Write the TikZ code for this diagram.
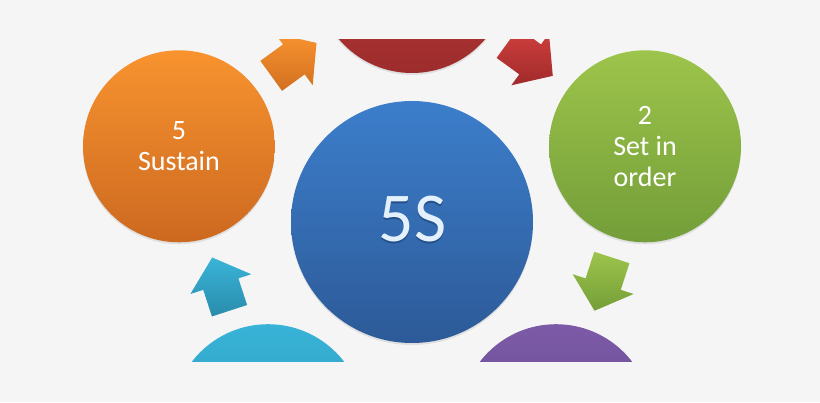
\documentclass[tikz,border=0pt]{standalone}
\usepackage{fontspec}
\setmainfont{Carlito}
\usetikzlibrary{calc,shadows}
\definecolor{bg}{HTML}{F5F5F5}
\definecolor{orT}{HTML}{F8932F}
\definecolor{orB}{HTML}{CC6920}
\definecolor{grT}{HTML}{9DC44B}
\definecolor{grB}{HTML}{739E39}
\definecolor{blT}{HTML}{3C7ECB}
\definecolor{blB}{HTML}{2D5A98}
\definecolor{rdT}{HTML}{C84240}
\definecolor{rdB}{HTML}{9D2C2C}
\definecolor{cyT}{HTML}{38B3D7}
\definecolor{cyB}{HTML}{2690B0}
\definecolor{puT}{HTML}{7C5AA7}
\definecolor{puB}{HTML}{5E4285}
\definecolor{oaT}{HTML}{F8932F}
\definecolor{oaB}{HTML}{D27020}
\definecolor{raT}{HTML}{D0403F}
\definecolor{raB}{HTML}{A12A2A}
\definecolor{gaT}{HTML}{9DC44B}
\definecolor{gaB}{HTML}{749F38}
\definecolor{caT}{HTML}{39B4D8}
\definecolor{caB}{HTML}{2A8CAC}
\definecolor{txtS}{HTML}{E4F1FD}
\definecolor{txtSh}{HTML}{24508A}
\begin{document}
\begin{tikzpicture}[x=1pt,y=1pt,
  disc/.style={circle, inner sep=0pt, minimum size=192pt, text=white, align=center,
    font=\fontsize{28}{31}\selectfont,
    drop shadow={opacity=0.18, shadow xshift=0pt, shadow yshift=-2pt}},
  bigdisc/.style={disc, minimum size=242pt},
  bigtext/.style={font=\fontsize{70}{70}\selectfont, inner sep=0pt},
  blockarrow/.style={draw=none}]
\useasboundingbox (0,0) rectangle (820,402);
\fill[bg] (0,0) rectangle (820,402);
\begin{scope}
\clip (0,40) rectangle (820,362);
\coordinate (ctr) at (412,180);
% outer circles
\node[disc, top color=rdT, bottom color=rdB] (s1) at ($(ctr)+(90:245)$) {};
\node[disc, top color=grT, bottom color=grB] (s2) at ($(ctr)+(18:245)$) {2\\Set in\\order};
\node[disc, top color=puT, bottom color=puB] (s3) at ($(ctr)+(-54:245)$) {};
\node[disc, top color=cyT, bottom color=cyB] (s4) at ($(ctr)+(-126:245)$) {};
\node[disc, top color=orT, bottom color=orB] (s5) at ($(ctr)+(162:245)$) {5\\Sustain};
% centre circle
\node[bigdisc, top color=blT, bottom color=blB] (c0) at (ctr) {};
\node[bigtext, text=txtSh] (t0sh) at ($(ctr)+(0.8,1.0)$) {5S};
\node[bigtext, text=txtS] (t0) at ($(ctr)+(0.5,2.5)$) {5S};
% block arrows
\begin{scope}[shift={($(ctr)+(126:201)$)}, rotate=36]
  \path[blockarrow, top color=oaT, bottom color=oaB] (28,0) -- (0,32) -- (0,18.5) -- (-28,18.5) -- (-28,-18.5) -- (0,-18.5) -- (0,-32) -- cycle;
\end{scope}
\begin{scope}[shift={($(ctr)+(54:201)$)}, rotate=-36]
  \path[blockarrow, top color=raT, bottom color=raB] (28,0) -- (0,32) -- (0,18.5) -- (-28,18.5) -- (-28,-18.5) -- (0,-18.5) -- (0,-32) -- cycle;
\end{scope}
\begin{scope}[shift={($(ctr)+(-18:201)$)}, rotate=-108]
  \path[blockarrow, top color=gaT, bottom color=gaB] (28,0) -- (0,32) -- (0,18.5) -- (-28,18.5) -- (-28,-18.5) -- (0,-18.5) -- (0,-32) -- cycle;
\end{scope}
\begin{scope}[shift={($(ctr)+(-162:201)$)}, rotate=108]
  \path[blockarrow, top color=caT, bottom color=caB] (28,0) -- (0,32) -- (0,18.5) -- (-28,18.5) -- (-28,-18.5) -- (0,-18.5) -- (0,-32) -- cycle;
\end{scope}
\end{scope}
\end{tikzpicture}
\end{document}
